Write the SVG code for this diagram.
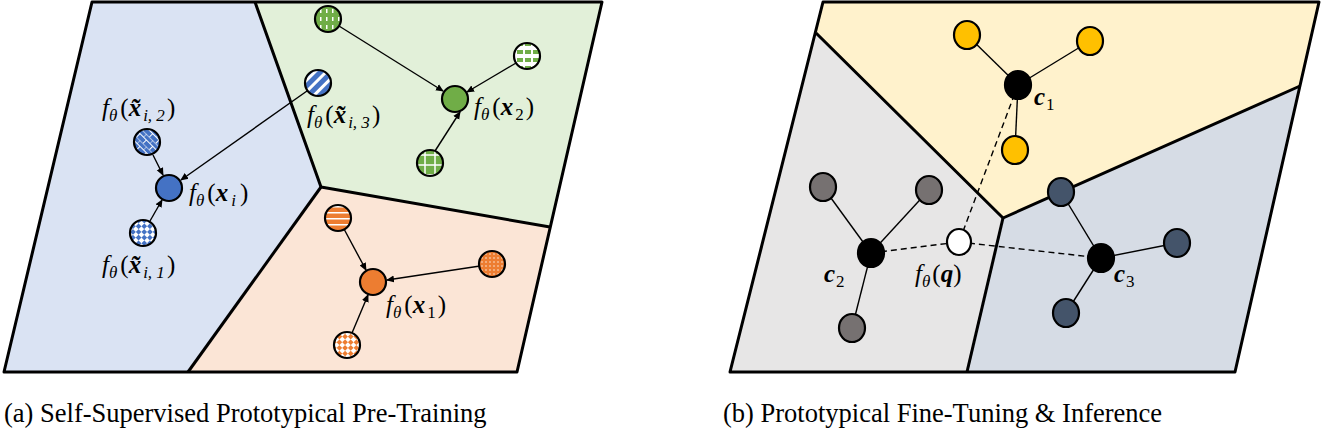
<svg xmlns="http://www.w3.org/2000/svg" width="1330" height="434" viewBox="0 0 1330 434">
<style>
.b{stroke:#000;stroke-width:3;stroke-linejoin:round}
.n{stroke:#000;stroke-width:2.2}
.e{stroke:#000;stroke-width:1.4;fill:none}
.d{stroke:#000;stroke-width:1.4;fill:none;stroke-dasharray:6 4}
.m{font-family:"Liberation Serif",serif;font-style:italic;font-size:25px}
.bx{font-weight:bold}
.s{font-size:17px}
.p{font-style:normal}
.cap{font-family:"Liberation Serif",serif;font-size:26.5px}
</style>
<defs>
<marker id="ah" markerWidth="8" markerHeight="8" refX="7" refY="4" orient="auto" markerUnits="userSpaceOnUse"><path d="M0,0.5 L8,4 L0,7.5 z" fill="#000"/></marker>
<pattern id="pB3" width="8" height="8" patternUnits="userSpaceOnUse" patternTransform="rotate(45)"><rect width="8" height="8" fill="#4472c4"/><rect width="3" height="8" fill="#fff"/></pattern>
<pattern id="pB2" width="9" height="9" patternUnits="userSpaceOnUse" patternTransform="rotate(45)"><rect width="9" height="9" fill="#4472c4"/><path d="M0,0H9M0,0V4.5M4.5,4.5V9M0,4.5H9" stroke="#fff" stroke-width="1"/></pattern>
<pattern id="pB1" width="8" height="8" patternUnits="userSpaceOnUse" patternTransform="rotate(45)"><rect width="8" height="8" fill="#4472c4"/><rect width="4" height="4" fill="#fff"/><rect x="4" y="4" width="4" height="4" fill="#fff"/></pattern>
<pattern id="pG1" width="6" height="8" patternUnits="userSpaceOnUse"><rect width="6" height="8" fill="#70ad47"/><rect x="2" y="1" width="1.5" height="4" fill="#fff"/></pattern>
<pattern id="pG2" width="8" height="8" patternUnits="userSpaceOnUse"><rect width="8" height="8" fill="#fff"/><rect x="0" y="2" width="3" height="4" fill="#70ad47"/><rect x="5" y="2" width="3" height="4" fill="#70ad47"/></pattern>
<pattern id="pG3" width="10" height="10" patternUnits="userSpaceOnUse"><rect width="10" height="10" fill="#70ad47"/><path d="M5,0V10M0,5H10" stroke="#fff" stroke-width="1.5"/></pattern>
<pattern id="pO1" width="8" height="6" patternUnits="userSpaceOnUse"><rect width="8" height="6" fill="#ed7d31"/><rect y="2" width="8" height="1.5" fill="#fff"/></pattern>
<pattern id="pO2" width="4" height="4" patternUnits="userSpaceOnUse"><rect width="4" height="4" fill="#ed7d31"/><circle cx="2" cy="2" r="0.8" fill="#fbe5d6"/></pattern>
<pattern id="pO3" width="8" height="8" patternUnits="userSpaceOnUse" patternTransform="rotate(45)"><rect width="8" height="8" fill="#fff"/><rect width="4" height="4" fill="#ed7d31"/><rect x="4" y="4" width="4" height="4" fill="#ed7d31"/></pattern>
</defs>

<g id="regions-a">
<polygon points="92,2 255,2 321,187 188,372 4,372" fill="#dae3f3"/>
<polygon points="255,2 602,2 550,227 321,187" fill="#e2f0d9"/>
<polygon points="321,187 550,227 517,372 188,372" fill="#fbe5d6"/>
<polyline class="b" fill="none" points="255,2 321,187 550,227"/>
<line class="b" x1="321" y1="187" x2="188" y2="372"/>
<polygon class="b" fill="none" points="92,2 602,2 517,372 4,372"/>
</g>
<g id="regions-b">
<polygon points="823,2 1319,2 1300,86 1003,218 816,33" fill="#fff2cc"/>
<polygon points="816,33 1003,218 967,372 730,372" fill="#e7e6e6"/>
<polygon points="1003,218 1300,86 1235,372 967,372" fill="#d6dce5"/>
<polyline class="b" fill="none" points="816,33 1003,218 1300,86"/>
<line class="b" x1="1003" y1="218" x2="967" y2="372"/>
<polygon class="b" fill="none" points="823,2 1319,2 1235,372 730,372"/>
</g>

<g id="connectors">
<line class="e" marker-end="url(#ah)" x1="153" y1="155" x2="163" y2="175"/>
<line class="e" marker-end="url(#ah)" x1="150" y1="221" x2="162" y2="200"/>
<line class="e" marker-end="url(#ah)" x1="307" y1="91" x2="181" y2="180"/>
<line class="e" marker-end="url(#ah)" x1="339" y1="26" x2="443" y2="91"/>
<line class="e" marker-end="url(#ah)" x1="516" y1="63" x2="467" y2="92"/>
<line class="e" marker-end="url(#ah)" x1="435" y1="151" x2="460" y2="112"/>
<line class="e" marker-end="url(#ah)" x1="344" y1="229" x2="366" y2="270"/>
<line class="e" marker-end="url(#ah)" x1="480" y1="266" x2="387" y2="280"/>
<line class="e" marker-end="url(#ah)" x1="352" y1="333" x2="368" y2="295"/>
<line class="e" x1="967" y1="35" x2="1018" y2="85"/>
<line class="e" x1="1090" y1="41" x2="1018" y2="85"/>
<line class="e" x1="1015" y1="150" x2="1018" y2="85"/>
<line class="e" x1="823" y1="187" x2="871" y2="253"/>
<line class="e" x1="929" y1="190" x2="871" y2="253"/>
<line class="e" x1="852" y1="328" x2="871" y2="253"/>
<line class="e" x1="1061" y1="192" x2="1101" y2="258"/>
<line class="e" x1="1177" y1="243" x2="1101" y2="258"/>
<line class="e" x1="1066" y1="313" x2="1101" y2="258"/>
<line class="d" x1="1018" y1="85" x2="959" y2="242"/>
<line class="d" x1="871" y1="253" x2="959" y2="242"/>
<line class="d" x1="959" y1="242" x2="1101" y2="258"/>
</g>

<g id="node-xi"><circle class="n" cx="169" cy="188" r="13" fill="#4472c4"/></g>
<g id="node-xi2"><circle class="n" cx="147" cy="142" r="13" fill="url(#pB2)"/></g>
<g id="node-xi1"><circle class="n" cx="143" cy="233" r="13" fill="url(#pB1)"/></g>
<g id="node-xi3"><circle class="n" cx="318" cy="83" r="13" fill="url(#pB3)"/></g>
<g id="node-x2"><circle class="n" cx="455" cy="99" r="13" fill="#70ad47"/></g>
<g id="node-g1"><circle class="n" cx="328" cy="19" r="13" fill="url(#pG1)"/></g>
<g id="node-g2"><circle class="n" cx="527" cy="56" r="13" fill="url(#pG2)"/></g>
<g id="node-g3"><circle class="n" cx="430" cy="163" r="13" fill="url(#pG3)"/></g>
<g id="node-x1"><circle class="n" cx="373" cy="282" r="13" fill="#ed7d31"/></g>
<g id="node-o1"><circle class="n" cx="338" cy="218" r="13" fill="url(#pO1)"/></g>
<g id="node-o2"><circle class="n" cx="492" cy="264" r="13" fill="url(#pO2)"/></g>
<g id="node-o3"><circle class="n" cx="347" cy="345" r="13" fill="url(#pO3)"/></g>

<g id="node-c1"><ellipse class="n" cx="1018" cy="85" rx="13" ry="14" fill="#000"/></g>
<g id="node-y1"><ellipse class="n" cx="967" cy="35" rx="13" ry="14" fill="#ffc000"/></g>
<g id="node-y2"><ellipse class="n" cx="1090" cy="41" rx="13" ry="14" fill="#ffc000"/></g>
<g id="node-y3"><ellipse class="n" cx="1015" cy="150" rx="13" ry="14" fill="#ffc000"/></g>
<g id="node-c2"><ellipse class="n" cx="871" cy="253" rx="13" ry="14" fill="#000"/></g>
<g id="node-k1"><ellipse class="n" cx="823" cy="187" rx="13" ry="14" fill="#767171"/></g>
<g id="node-k2"><ellipse class="n" cx="929" cy="190" rx="13" ry="14" fill="#767171"/></g>
<g id="node-k3"><ellipse class="n" cx="852" cy="328" rx="13" ry="14" fill="#767171"/></g>
<g id="node-c3"><ellipse class="n" cx="1101" cy="258" rx="13" ry="14" fill="#000"/></g>
<g id="node-s1"><ellipse class="n" cx="1061" cy="192" rx="13" ry="14" fill="#44546a"/></g>
<g id="node-s2"><ellipse class="n" cx="1177" cy="243" rx="13" ry="14" fill="#44546a"/></g>
<g id="node-s3"><ellipse class="n" cx="1066" cy="313" rx="13" ry="14" fill="#44546a"/></g>
<g id="node-q"><ellipse class="n" cx="959" cy="242" rx="12" ry="13" fill="#fff"/></g>

<g id="labels">
<text class="m" x="102" y="116">f<tspan class="s" dy="5">θ</tspan><tspan class="p" dy="-5" dx="3">(</tspan><tspan class="bx">x̃</tspan><tspan class="s" dy="5" dx="2">i, 2</tspan><tspan class="p" dy="-5" dx="2">)</tspan></text>
<text class="m" x="307" y="123">f<tspan class="s" dy="5">θ</tspan><tspan class="p" dy="-5" dx="3">(</tspan><tspan class="bx">x̃</tspan><tspan class="s" dy="5" dx="2">i, 3</tspan><tspan class="p" dy="-5" dx="2">)</tspan></text>
<text class="m" x="189" y="201">f<tspan class="s" dy="5">θ</tspan><tspan class="p" dy="-5" dx="3">(</tspan><tspan class="bx">x</tspan><tspan class="s" dy="5" dx="3">i</tspan><tspan class="p" dy="-5" dx="4">)</tspan></text>
<text class="m" x="102" y="273">f<tspan class="s" dy="5">θ</tspan><tspan class="p" dy="-5" dx="3">(</tspan><tspan class="bx">x̃</tspan><tspan class="s" dy="5" dx="2">i, 1</tspan><tspan class="p" dy="-5" dx="2">)</tspan></text>
<text class="m" x="474" y="115">f<tspan class="s" dy="5">θ</tspan><tspan class="p" dy="-5" dx="3">(</tspan><tspan class="bx">x</tspan><tspan class="s p" dy="5" dx="2">2</tspan><tspan class="p" dy="-5" dx="2">)</tspan></text>
<text class="m" x="386" y="313">f<tspan class="s" dy="5">θ</tspan><tspan class="p" dy="-5" dx="3">(</tspan><tspan class="bx">x</tspan><tspan class="s p" dy="5" dx="2">1</tspan><tspan class="p" dy="-5" dx="2">)</tspan></text>
<text class="m" x="1034" y="105"><tspan class="bx">c</tspan><tspan class="s p" dy="5" dx="1">1</tspan></text>
<text class="m" x="824" y="282"><tspan class="bx">c</tspan><tspan class="s p" dy="5" dx="1">2</tspan></text>
<text class="m" x="1114" y="282"><tspan class="bx">c</tspan><tspan class="s p" dy="5" dx="1">3</tspan></text>
<text class="m" x="915" y="282">f<tspan class="s" dy="5">θ</tspan><tspan class="p" dy="-5" dx="2">(</tspan><tspan class="bx">q</tspan><tspan class="p">)</tspan></text>
<text class="cap" x="4" y="422">(a) Self-Supervised Prototypical Pre-Training</text>
<text class="cap" x="723" y="422">(b) Prototypical Fine-Tuning &amp; Inference</text>
</g>
</svg>
